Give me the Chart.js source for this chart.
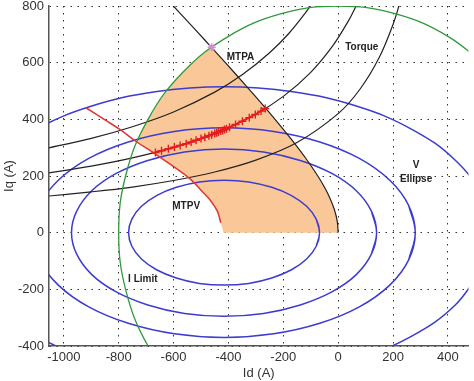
<!DOCTYPE html>
<html>
<head>
<meta charset="utf-8">
<script src="https://cdn.jsdelivr.net/npm/chart.js@4"></script>
<style>
  html, body { margin: 0; padding: 0; background: #fff; }
</style>
</head>
<body>
<canvas id="chart" width="474" height="381"></canvas>
<script>
// axis ticks
const xTickValues = [-1000, -800, -600, -400, -200, 0, 200, 400];
const yTickValues = [-400, -200, 0, 200, 400, 600, 800];

// current limit circle (Id, Iq)
const currentLimit = [[-566,-566],[-693,-400],[-773,-207],[-800,0],[-773,207],[-693,400],[-566,566],
  [-400,693],[-207,773],[0,800],[207,773],[400,693],[566,566]];

// voltage ellipses
const ellipse1 = [[-80,-48],[-68,0],[-80,48],[-115,93],[-170,131],[-242,160],[-326,179],[-416,185],
  [-506,179],[-590,160],[-662,131],[-717,93],[-752,48],[-764,0],[-752,-48],[-717,-93],[-662,-131],
  [-590,-160],[-506,-179],[-416,-185],[-326,-179],[-242,-160],[-170,-131],[-115,-93],[-80,-48],[-68,0],[-80,48]];
const ellipse2 = [[121,-76],[140,0],[121,76],[66,148],[-23,209],[-138,255],[-272,285],[-416,295],
  [-560,285],[-694,255],[-809,209],[-898,148],[-953,76],[-972,0],[-953,-76],[-898,-148],[-809,-209],
  [-694,-255],[-560,-285],[-416,-295],[-272,-285],[-138,-255],[-23,-209],[66,-148],[121,-76],[140,0],[121,76]];
const ellipse3 = [[257,-96],[281,0],[257,96],[188,185],[77,262],[-67,320],[-235,357],[-416,370],
  [-597,357],[-765,320],[-909,262],[-1020,185],[-1089,96],[-1113,0],[-1089,-96],[-1020,-185],[-909,-262],
  [-765,-320],[-597,-357],[-416,-370],[-235,-357],[-67,-320],[77,-262],[188,-185],[257,-96],[281,0],[257,96]];
const ellipse4 = [[521,-133],[554,0],[521,133],[424,258],[270,364],[69,446],[-165,497],[-416,515],
  [-667,497],[-901,446],[-1102,364],[-1256,258],[-1353,133],[-1386,0],[-1353,-133],[-1256,-258],[-1102,-364],
  [-901,-446],[-667,-497],[-416,-515],[-165,-497],[69,-446],[270,-364],[424,-258],[521,-133]];

// constant torque curves
const torque1 = [[-1080,294],[-900,333],[-750,374],[-600,426],[-450,496],[-350,557],[-250,635],[-180,703],[-120,775],[-90,817]];
const torque2 = [[-1080,207],[-900,235],[-750,264],[-600,301],[-450,350],[-300,419],[-200,481],[-100,566],[-20,659],[40,752],[70,809]];
const torque3 = [[-1080,127],[-900,144],[-750,161],[-600,184],[-450,214],[-300,256],[-150,318],[0,420],[80,507],[150,619],[200,735],[230,828]];

// MTPA and MTPV
const mtpa = [[0,0],[-3.4,40],[-13.4,80],[-29.2,120],[-49.8,160],[-74.2,200],[-116.3,260],[-171.2,330],
  [-230.2,400],[-300.9,480],[-373.9,560],[-448.5,640],[-524.2,720],[-600.6,800],[-644,845]];
const mtpv = [[-918,440],[-850,398],[-792,362],[-734,320],[-673,282],[-610,240],[-540,190],[-500,150],[-464,112],[-440,75],[-428,35]];
const mtpaPoint = [[-461,654]];

// operating points (red crosses)
const crossId = [-666,-644,-619,-597,-576,-554,-536,-518,-500,-486,-471,-461,-450,-443,-436,-428,-421,-414,-407,-396,-374,-349,-324,-302,-281,-266];
const crossIq = [283,289,296,302,308,314,320,326,332,337,342,346,350,353,355,359,361,364,367,372,382,393,406,417,429,438];

// operating region boundaries
const regionTop = [[-733,319],[-700,387],[-650,466],[-600,529],[-550,581],[-500,624],[-461,654],
  [-373.9,560],[-300.9,480],[-230.2,400],[-171.2,330],[-116.3,260],[-74.2,200],[-49.8,160],[-29.2,120],[-13.4,80],[-3.4,40],[0,0]];
const regionBottom = [[-733,319],[-673,282],[-610,240],[-540,190],[-500,150],[-464,112],[-440,75],[-428,35],[-418,0],[0,0]];

// text notes
const noteText = ['MTPA', 'Torque', 'V', 'Ellipse', 'MTPV', 'I Limit'];
const noteId = [-356, 86, 284, 284, -554, -712];
const noteIq = [620, 655, 238, 189, 94, -164];

const toXY = pts => pts.map(p => ({x: p[0], y: p[1]}));

function curve(pts, color, width, tension) {
    return {
        data: toXY(pts),
        showLine: true,
        borderColor: color,
        borderWidth: width,
        pointRadius: 0,
        tension: tension,
        fill: false
    };
}

const blue = '#3c3cd0';
const font = '"Liberation Sans", Arial, sans-serif';

const notesPlugin = {
    id: 'notes',
    afterDraw(chart) {
        const {ctx, scales: {x, y}} = chart;
        ctx.save();
        ctx.font = 'bold 10px ' + font;
        ctx.fillStyle = '#222';
        ctx.textAlign = 'center';
        ctx.textBaseline = 'middle';
        noteText.forEach((t, i) => {
            ctx.fillText(t, x.getPixelForValue(noteId[i]), y.getPixelForValue(noteIq[i]));
        });
        ctx.restore();
    }
};

const datasets = [
    {
        data: toXY(mtpaPoint), pointStyle: 'star', pointRadius: 4,
        borderColor: '#d68ad6', pointBorderWidth: 1.5, showLine: false
    },
    {
        data: crossId.map((v, i) => ({x: v, y: crossIq[i]})),
        showLine: true, borderColor: '#e41e1e', borderWidth: 1.8, tension: 0.3,
        pointStyle: 'cross', pointRadius: 4, pointBorderWidth: 1.4, pointBorderColor: '#e41e1e'
    },
    curve(mtpv, '#e03535', 1.5, 0.4),
    curve(currentLimit, '#2f9a3a', 1.3, 0.4),
    curve(mtpa, '#222', 1.2, 0.3),
    curve(torque1, '#222', 1.2, 0.35),
    curve(torque2, '#222', 1.2, 0.35),
    curve(torque3, '#222', 1.2, 0.35),
    curve(ellipse1, blue, 1.5, 0.4),
    curve(ellipse2, blue, 1.5, 0.4),
    curve(ellipse3, blue, 1.5, 0.4),
    curve(ellipse4, blue, 1.5, 0.4),
    {
        data: toXY(regionTop), showLine: true, borderWidth: 0, pointRadius: 0, tension: 0,
        backgroundColor: 'rgb(250,199,152)', fill: '+1'
    },
    {
        data: toXY(regionBottom), showLine: true, borderWidth: 0, pointRadius: 0, tension: 0, fill: false
    }
];

const gridStyle = { color: '#333', lineWidth: 1, drawTicks: false };
const borderStyle = { color: '#555', width: 1.5, dash: [1.5, 5.5] };

new Chart(document.getElementById('chart'), {
    type: 'scatter',
    data: { datasets: datasets },
    options: {
        responsive: false,
        animation: false,
        layout: { padding: 0 },
        plugins: {
            legend: { display: false },
            tooltip: { enabled: false }
        },
        scales: {
            x: {
                type: 'linear',
                min: -1054,
                max: 475,
                z: 1,
                afterFit: s => { s.height = 35; },
                afterBuildTicks: s => { s.ticks = xTickValues.map(v => ({value: v})); },
                grid: gridStyle,
                border: borderStyle,
                ticks: { color: '#333', padding: 5, maxRotation: 0, callback: v => String(v),
                    font: { family: font, size: 13, lineHeight: 1 } },
                title: { display: true, text: 'Id (A)', color: '#333', padding: 0, font: { family: font, size: 13 } }
            },
            y: {
                type: 'linear',
                min: -400,
                max: 800,
                z: 1,
                afterFit: s => { s.width = 49; s.paddingTop = 6; s.paddingBottom = 0; },
                afterBuildTicks: s => { s.ticks = yTickValues.map(v => ({value: v})); },
                grid: gridStyle,
                border: borderStyle,
                ticks: { color: '#333', padding: 5, callback: v => String(v),
                    font: { family: font, size: 13, lineHeight: 1 } },
                title: { display: true, text: 'Iq (A)', color: '#333', padding: { top: 2, bottom: 0 }, font: { family: font, size: 13 } }
            }
        }
    },
    plugins: [notesPlugin]
});
</script>
</body>
</html>
